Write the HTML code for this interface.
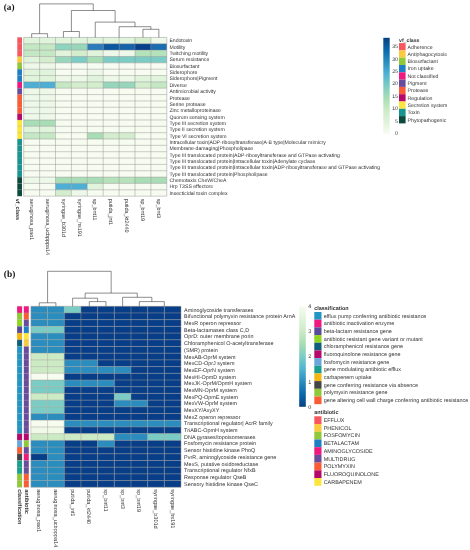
<!DOCTYPE html>
<html><head><meta charset="utf-8"><title>Heatmaps</title>
<style>html,body{margin:0;padding:0;background:#fff}svg{display:block}text{font-family:"Liberation Sans",sans-serif;fill:#333333;text-rendering:geometricPrecision}text.ser{font-family:"Liberation Serif",serif;font-weight:bold;fill:#111}</style>
</head><body>
<svg width="470" height="550" viewBox="0 0 470 550">
<defs><linearGradient id="ga" x1="0" y1="0" x2="0" y2="1"><stop offset="0.0000" stop-color="#084081"/><stop offset="0.1250" stop-color="#0868ac"/><stop offset="0.2500" stop-color="#2b8cbe"/><stop offset="0.3750" stop-color="#4eb3d3"/><stop offset="0.5000" stop-color="#7bccc4"/><stop offset="0.6250" stop-color="#a8ddb5"/><stop offset="0.7500" stop-color="#ccebc5"/><stop offset="0.8750" stop-color="#e0f3db"/><stop offset="1.0000" stop-color="#f7fcf0"/></linearGradient><linearGradient id="gb" x1="0" y1="0" x2="0" y2="1"><stop offset="0.0000" stop-color="#f7fcf0"/><stop offset="0.1250" stop-color="#e0f3db"/><stop offset="0.2500" stop-color="#ccebc5"/><stop offset="0.3750" stop-color="#a8ddb5"/><stop offset="0.5000" stop-color="#7bccc4"/><stop offset="0.6250" stop-color="#4eb3d3"/><stop offset="0.7500" stop-color="#2b8cbe"/><stop offset="0.8750" stop-color="#0868ac"/><stop offset="1.0000" stop-color="#084081"/></linearGradient></defs>
<rect x="0" y="0" width="470" height="550" fill="#ffffff"/>
<rect x="17.30" y="37.45" width="4.70" height="6.35" fill="#f8575f" />
<rect x="23.70" y="37.45" width="15.90" height="6.35" fill="#e0f3db" />
<rect x="39.60" y="37.45" width="15.90" height="6.35" fill="#e0f3db" />
<rect x="55.50" y="37.45" width="15.90" height="6.35" fill="#e0f3db" />
<rect x="71.40" y="37.45" width="15.90" height="6.35" fill="#e0f3db" />
<rect x="87.30" y="37.45" width="15.90" height="6.35" fill="#e0f3db" />
<rect x="103.20" y="37.45" width="15.90" height="6.35" fill="#e0f3db" />
<rect x="119.10" y="37.45" width="15.90" height="6.35" fill="#e0f3db" />
<rect x="135.00" y="37.45" width="15.90" height="6.35" fill="#d3edcd" />
<rect x="150.90" y="37.45" width="15.90" height="6.35" fill="#eef8e8" />
<text x="169.40" y="42.37" font-size="5.13" >Endotoxin</text>
<rect x="17.30" y="43.80" width="4.70" height="6.35" fill="#f8575f" />
<rect x="23.70" y="43.80" width="15.90" height="6.35" fill="#c5e8c4" />
<rect x="39.60" y="43.80" width="15.90" height="6.35" fill="#c5e8c4" />
<rect x="55.50" y="43.80" width="15.90" height="6.35" fill="#8fd4bf" />
<rect x="71.40" y="43.80" width="15.90" height="6.35" fill="#98d6bb" />
<rect x="87.30" y="43.80" width="15.90" height="6.35" fill="#2b7cba" />
<rect x="103.20" y="43.80" width="15.90" height="6.35" fill="#0c58a0" />
<rect x="119.10" y="43.80" width="15.90" height="6.35" fill="#1763aa" />
<rect x="135.00" y="43.80" width="15.90" height="6.35" fill="#083f8a" />
<rect x="150.90" y="43.80" width="15.90" height="6.35" fill="#1c6cb0" />
<text x="169.40" y="48.72" font-size="5.13" >Motility</text>
<rect x="17.30" y="50.15" width="4.70" height="6.35" fill="#f8575f" />
<rect x="23.70" y="50.15" width="15.90" height="6.35" fill="#c5e8c4" />
<rect x="39.60" y="50.15" width="15.90" height="6.35" fill="#c5e8c4" />
<rect x="55.50" y="50.15" width="15.90" height="6.35" fill="#e0f3db" />
<rect x="71.40" y="50.15" width="15.90" height="6.35" fill="#d3edcd" />
<rect x="87.30" y="50.15" width="15.90" height="6.35" fill="#e0f3db" />
<rect x="103.20" y="50.15" width="15.90" height="6.35" fill="#eef8e8" />
<rect x="119.10" y="50.15" width="15.90" height="6.35" fill="#eef8e8" />
<rect x="135.00" y="50.15" width="15.90" height="6.35" fill="#b5e2ba" />
<rect x="150.90" y="50.15" width="15.90" height="6.35" fill="#b5e2ba" />
<text x="169.40" y="55.07" font-size="5.13" >Twitching motility</text>
<rect x="17.30" y="56.49" width="4.70" height="6.35" fill="#fbc93d" />
<rect x="23.70" y="56.49" width="15.90" height="6.35" fill="#e0f3db" />
<rect x="39.60" y="56.49" width="15.90" height="6.35" fill="#d3edcd" />
<rect x="55.50" y="56.49" width="15.90" height="6.35" fill="#98d6bb" />
<rect x="71.40" y="56.49" width="15.90" height="6.35" fill="#7bccc4" />
<rect x="87.30" y="56.49" width="15.90" height="6.35" fill="#a8ddb5" />
<rect x="103.20" y="56.49" width="15.90" height="6.35" fill="#7bccc4" />
<rect x="119.10" y="56.49" width="15.90" height="6.35" fill="#7bccc4" />
<rect x="135.00" y="56.49" width="15.90" height="6.35" fill="#7bccc4" />
<rect x="150.90" y="56.49" width="15.90" height="6.35" fill="#7bccc4" />
<text x="169.40" y="61.42" font-size="5.13" >Serum resistance</text>
<rect x="17.30" y="62.84" width="4.70" height="6.35" fill="#8fc93a" />
<rect x="23.70" y="62.84" width="15.90" height="6.35" fill="#eef8e8" />
<rect x="39.60" y="62.84" width="15.90" height="6.35" fill="#eef8e8" />
<rect x="55.50" y="62.84" width="15.90" height="6.35" fill="#f7fcf0" />
<rect x="71.40" y="62.84" width="15.90" height="6.35" fill="#f7fcf0" />
<rect x="87.30" y="62.84" width="15.90" height="6.35" fill="#f7fcf0" />
<rect x="103.20" y="62.84" width="15.90" height="6.35" fill="#f7fcf0" />
<rect x="119.10" y="62.84" width="15.90" height="6.35" fill="#f7fcf0" />
<rect x="135.00" y="62.84" width="15.90" height="6.35" fill="#f7fcf0" />
<rect x="150.90" y="62.84" width="15.90" height="6.35" fill="#f7fcf0" />
<text x="169.40" y="67.77" font-size="5.13" >Biosurfactant</text>
<rect x="17.30" y="69.19" width="4.70" height="6.35" fill="#1f7fc6" />
<rect x="23.70" y="69.19" width="15.90" height="6.35" fill="#e0f3db" />
<rect x="39.60" y="69.19" width="15.90" height="6.35" fill="#e0f3db" />
<rect x="55.50" y="69.19" width="15.90" height="6.35" fill="#f7fcf0" />
<rect x="71.40" y="69.19" width="15.90" height="6.35" fill="#f7fcf0" />
<rect x="87.30" y="69.19" width="15.90" height="6.35" fill="#eef8e8" />
<rect x="103.20" y="69.19" width="15.90" height="6.35" fill="#f7fcf0" />
<rect x="119.10" y="69.19" width="15.90" height="6.35" fill="#f7fcf0" />
<rect x="135.00" y="69.19" width="15.90" height="6.35" fill="#f7fcf0" />
<rect x="150.90" y="69.19" width="15.90" height="6.35" fill="#f7fcf0" />
<text x="169.40" y="74.11" font-size="5.13" >Siderophore</text>
<rect x="17.30" y="75.54" width="4.70" height="6.35" fill="#1f7fc6" />
<rect x="23.70" y="75.54" width="15.90" height="6.35" fill="#e0f3db" />
<rect x="39.60" y="75.54" width="15.90" height="6.35" fill="#e0f3db" />
<rect x="55.50" y="75.54" width="15.90" height="6.35" fill="#eef8e8" />
<rect x="71.40" y="75.54" width="15.90" height="6.35" fill="#eef8e8" />
<rect x="87.30" y="75.54" width="15.90" height="6.35" fill="#e0f3db" />
<rect x="103.20" y="75.54" width="15.90" height="6.35" fill="#eef8e8" />
<rect x="119.10" y="75.54" width="15.90" height="6.35" fill="#eef8e8" />
<rect x="135.00" y="75.54" width="15.90" height="6.35" fill="#e0f3db" />
<rect x="150.90" y="75.54" width="15.90" height="6.35" fill="#e0f3db" />
<text x="169.40" y="80.46" font-size="5.13" >Siderophore|Pigment</text>
<rect x="17.30" y="81.89" width="4.70" height="6.35" fill="#f0197d" />
<rect x="23.70" y="81.89" width="15.90" height="6.35" fill="#4eaed3" />
<rect x="39.60" y="81.89" width="15.90" height="6.35" fill="#4eaed3" />
<rect x="55.50" y="81.89" width="15.90" height="6.35" fill="#c5e8c4" />
<rect x="71.40" y="81.89" width="15.90" height="6.35" fill="#d3edcd" />
<rect x="87.30" y="81.89" width="15.90" height="6.35" fill="#d3edcd" />
<rect x="103.20" y="81.89" width="15.90" height="6.35" fill="#98d6bb" />
<rect x="119.10" y="81.89" width="15.90" height="6.35" fill="#98d6bb" />
<rect x="135.00" y="81.89" width="15.90" height="6.35" fill="#d3edcd" />
<rect x="150.90" y="81.89" width="15.90" height="6.35" fill="#c5e8c4" />
<text x="169.40" y="86.81" font-size="5.13" >Diverse</text>
<rect x="17.30" y="88.23" width="4.70" height="6.35" fill="#6a4c9c" />
<rect x="23.70" y="88.23" width="15.90" height="6.35" fill="#eef8e8" />
<rect x="39.60" y="88.23" width="15.90" height="6.35" fill="#eef8e8" />
<rect x="55.50" y="88.23" width="15.90" height="6.35" fill="#f7fcf0" />
<rect x="71.40" y="88.23" width="15.90" height="6.35" fill="#f7fcf0" />
<rect x="87.30" y="88.23" width="15.90" height="6.35" fill="#f7fcf0" />
<rect x="103.20" y="88.23" width="15.90" height="6.35" fill="#f7fcf0" />
<rect x="119.10" y="88.23" width="15.90" height="6.35" fill="#f7fcf0" />
<rect x="135.00" y="88.23" width="15.90" height="6.35" fill="#f7fcf0" />
<rect x="150.90" y="88.23" width="15.90" height="6.35" fill="#f7fcf0" />
<text x="169.40" y="93.16" font-size="5.13" >Antimicrobial activity</text>
<rect x="17.30" y="94.58" width="4.70" height="6.35" fill="#fa5d35" />
<rect x="23.70" y="94.58" width="15.90" height="6.35" fill="#eef8e8" />
<rect x="39.60" y="94.58" width="15.90" height="6.35" fill="#eef8e8" />
<rect x="55.50" y="94.58" width="15.90" height="6.35" fill="#f7fcf0" />
<rect x="71.40" y="94.58" width="15.90" height="6.35" fill="#f7fcf0" />
<rect x="87.30" y="94.58" width="15.90" height="6.35" fill="#f7fcf0" />
<rect x="103.20" y="94.58" width="15.90" height="6.35" fill="#f7fcf0" />
<rect x="119.10" y="94.58" width="15.90" height="6.35" fill="#f7fcf0" />
<rect x="135.00" y="94.58" width="15.90" height="6.35" fill="#f7fcf0" />
<rect x="150.90" y="94.58" width="15.90" height="6.35" fill="#f7fcf0" />
<text x="169.40" y="99.51" font-size="5.13" >Protease</text>
<rect x="17.30" y="100.93" width="4.70" height="6.35" fill="#fa5d35" />
<rect x="23.70" y="100.93" width="15.90" height="6.35" fill="#eef8e8" />
<rect x="39.60" y="100.93" width="15.90" height="6.35" fill="#eef8e8" />
<rect x="55.50" y="100.93" width="15.90" height="6.35" fill="#f7fcf0" />
<rect x="71.40" y="100.93" width="15.90" height="6.35" fill="#f7fcf0" />
<rect x="87.30" y="100.93" width="15.90" height="6.35" fill="#f7fcf0" />
<rect x="103.20" y="100.93" width="15.90" height="6.35" fill="#f7fcf0" />
<rect x="119.10" y="100.93" width="15.90" height="6.35" fill="#f7fcf0" />
<rect x="135.00" y="100.93" width="15.90" height="6.35" fill="#f7fcf0" />
<rect x="150.90" y="100.93" width="15.90" height="6.35" fill="#f7fcf0" />
<text x="169.40" y="105.85" font-size="5.13" >Serine protease</text>
<rect x="17.30" y="107.28" width="4.70" height="6.35" fill="#fa5d35" />
<rect x="23.70" y="107.28" width="15.90" height="6.35" fill="#eef8e8" />
<rect x="39.60" y="107.28" width="15.90" height="6.35" fill="#eef8e8" />
<rect x="55.50" y="107.28" width="15.90" height="6.35" fill="#f7fcf0" />
<rect x="71.40" y="107.28" width="15.90" height="6.35" fill="#f7fcf0" />
<rect x="87.30" y="107.28" width="15.90" height="6.35" fill="#f7fcf0" />
<rect x="103.20" y="107.28" width="15.90" height="6.35" fill="#f7fcf0" />
<rect x="119.10" y="107.28" width="15.90" height="6.35" fill="#f7fcf0" />
<rect x="135.00" y="107.28" width="15.90" height="6.35" fill="#f7fcf0" />
<rect x="150.90" y="107.28" width="15.90" height="6.35" fill="#f7fcf0" />
<text x="169.40" y="112.20" font-size="5.13" >Zinc metalloproteinase</text>
<rect x="17.30" y="113.63" width="4.70" height="6.35" fill="#b5086a" />
<rect x="23.70" y="113.63" width="15.90" height="6.35" fill="#eef8e8" />
<rect x="39.60" y="113.63" width="15.90" height="6.35" fill="#eef8e8" />
<rect x="55.50" y="113.63" width="15.90" height="6.35" fill="#f7fcf0" />
<rect x="71.40" y="113.63" width="15.90" height="6.35" fill="#f7fcf0" />
<rect x="87.30" y="113.63" width="15.90" height="6.35" fill="#f7fcf0" />
<rect x="103.20" y="113.63" width="15.90" height="6.35" fill="#f7fcf0" />
<rect x="119.10" y="113.63" width="15.90" height="6.35" fill="#f7fcf0" />
<rect x="135.00" y="113.63" width="15.90" height="6.35" fill="#f7fcf0" />
<rect x="150.90" y="113.63" width="15.90" height="6.35" fill="#f7fcf0" />
<text x="169.40" y="118.55" font-size="5.13" >Quorum sensing system</text>
<rect x="17.30" y="119.97" width="4.70" height="6.35" fill="#fce63d" />
<rect x="23.70" y="119.97" width="15.90" height="6.35" fill="#a8ddb5" />
<rect x="39.60" y="119.97" width="15.90" height="6.35" fill="#a8ddb5" />
<rect x="55.50" y="119.97" width="15.90" height="6.35" fill="#f7fcf0" />
<rect x="71.40" y="119.97" width="15.90" height="6.35" fill="#f7fcf0" />
<rect x="87.30" y="119.97" width="15.90" height="6.35" fill="#f7fcf0" />
<rect x="103.20" y="119.97" width="15.90" height="6.35" fill="#f7fcf0" />
<rect x="119.10" y="119.97" width="15.90" height="6.35" fill="#f7fcf0" />
<rect x="135.00" y="119.97" width="15.90" height="6.35" fill="#f7fcf0" />
<rect x="150.90" y="119.97" width="15.90" height="6.35" fill="#f7fcf0" />
<text x="169.40" y="124.90" font-size="5.13" >Type III secretion system</text>
<rect x="17.30" y="126.32" width="4.70" height="6.35" fill="#fce63d" />
<rect x="23.70" y="126.32" width="15.90" height="6.35" fill="#e0f3db" />
<rect x="39.60" y="126.32" width="15.90" height="6.35" fill="#e0f3db" />
<rect x="55.50" y="126.32" width="15.90" height="6.35" fill="#f7fcf0" />
<rect x="71.40" y="126.32" width="15.90" height="6.35" fill="#f7fcf0" />
<rect x="87.30" y="126.32" width="15.90" height="6.35" fill="#f7fcf0" />
<rect x="103.20" y="126.32" width="15.90" height="6.35" fill="#f7fcf0" />
<rect x="119.10" y="126.32" width="15.90" height="6.35" fill="#f7fcf0" />
<rect x="135.00" y="126.32" width="15.90" height="6.35" fill="#f7fcf0" />
<rect x="150.90" y="126.32" width="15.90" height="6.35" fill="#f7fcf0" />
<text x="169.40" y="131.25" font-size="5.13" >Type II secretion system</text>
<rect x="17.30" y="132.67" width="4.70" height="6.35" fill="#fce63d" />
<rect x="23.70" y="132.67" width="15.90" height="6.35" fill="#c5e8c4" />
<rect x="39.60" y="132.67" width="15.90" height="6.35" fill="#c5e8c4" />
<rect x="55.50" y="132.67" width="15.90" height="6.35" fill="#f7fcf0" />
<rect x="71.40" y="132.67" width="15.90" height="6.35" fill="#f7fcf0" />
<rect x="87.30" y="132.67" width="15.90" height="6.35" fill="#a8ddb5" />
<rect x="103.20" y="132.67" width="15.90" height="6.35" fill="#d3edcd" />
<rect x="119.10" y="132.67" width="15.90" height="6.35" fill="#d3edcd" />
<rect x="135.00" y="132.67" width="15.90" height="6.35" fill="#f7fcf0" />
<rect x="150.90" y="132.67" width="15.90" height="6.35" fill="#f7fcf0" />
<text x="169.40" y="137.59" font-size="5.13" >Type VI secretion system</text>
<rect x="17.30" y="139.02" width="4.70" height="6.35" fill="#1a948e" />
<rect x="23.70" y="139.02" width="15.90" height="6.35" fill="#f7fcf0" />
<rect x="39.60" y="139.02" width="15.90" height="6.35" fill="#f7fcf0" />
<rect x="55.50" y="139.02" width="15.90" height="6.35" fill="#f7fcf0" />
<rect x="71.40" y="139.02" width="15.90" height="6.35" fill="#f7fcf0" />
<rect x="87.30" y="139.02" width="15.90" height="6.35" fill="#f7fcf0" />
<rect x="103.20" y="139.02" width="15.90" height="6.35" fill="#f7fcf0" />
<rect x="119.10" y="139.02" width="15.90" height="6.35" fill="#f7fcf0" />
<rect x="135.00" y="139.02" width="15.90" height="6.35" fill="#f7fcf0" />
<rect x="150.90" y="139.02" width="15.90" height="6.35" fill="#f7fcf0" />
<text x="169.40" y="143.94" font-size="5.13" >Intracellular toxin|ADP-ribosyltransferase|A-B type|Molecular mimicry</text>
<rect x="17.30" y="145.37" width="4.70" height="6.35" fill="#1a948e" />
<rect x="23.70" y="145.37" width="15.90" height="6.35" fill="#f7fcf0" />
<rect x="39.60" y="145.37" width="15.90" height="6.35" fill="#f7fcf0" />
<rect x="55.50" y="145.37" width="15.90" height="6.35" fill="#f7fcf0" />
<rect x="71.40" y="145.37" width="15.90" height="6.35" fill="#f7fcf0" />
<rect x="87.30" y="145.37" width="15.90" height="6.35" fill="#f7fcf0" />
<rect x="103.20" y="145.37" width="15.90" height="6.35" fill="#f7fcf0" />
<rect x="119.10" y="145.37" width="15.90" height="6.35" fill="#f7fcf0" />
<rect x="135.00" y="145.37" width="15.90" height="6.35" fill="#f7fcf0" />
<rect x="150.90" y="145.37" width="15.90" height="6.35" fill="#f7fcf0" />
<text x="169.40" y="150.29" font-size="5.13" >Membrane-damaging|Phospholipase</text>
<rect x="17.30" y="151.71" width="4.70" height="6.35" fill="#1a948e" />
<rect x="23.70" y="151.71" width="15.90" height="6.35" fill="#f7fcf0" />
<rect x="39.60" y="151.71" width="15.90" height="6.35" fill="#f7fcf0" />
<rect x="55.50" y="151.71" width="15.90" height="6.35" fill="#f7fcf0" />
<rect x="71.40" y="151.71" width="15.90" height="6.35" fill="#f7fcf0" />
<rect x="87.30" y="151.71" width="15.90" height="6.35" fill="#f7fcf0" />
<rect x="103.20" y="151.71" width="15.90" height="6.35" fill="#f7fcf0" />
<rect x="119.10" y="151.71" width="15.90" height="6.35" fill="#f7fcf0" />
<rect x="135.00" y="151.71" width="15.90" height="6.35" fill="#f7fcf0" />
<rect x="150.90" y="151.71" width="15.90" height="6.35" fill="#f7fcf0" />
<text x="169.40" y="156.64" font-size="5.13" >Type III translocated protein|ADP-ribosyltransferase and GTPase activating</text>
<rect x="17.30" y="158.06" width="4.70" height="6.35" fill="#1a948e" />
<rect x="23.70" y="158.06" width="15.90" height="6.35" fill="#f7fcf0" />
<rect x="39.60" y="158.06" width="15.90" height="6.35" fill="#f7fcf0" />
<rect x="55.50" y="158.06" width="15.90" height="6.35" fill="#f7fcf0" />
<rect x="71.40" y="158.06" width="15.90" height="6.35" fill="#f7fcf0" />
<rect x="87.30" y="158.06" width="15.90" height="6.35" fill="#f7fcf0" />
<rect x="103.20" y="158.06" width="15.90" height="6.35" fill="#f7fcf0" />
<rect x="119.10" y="158.06" width="15.90" height="6.35" fill="#f7fcf0" />
<rect x="135.00" y="158.06" width="15.90" height="6.35" fill="#f7fcf0" />
<rect x="150.90" y="158.06" width="15.90" height="6.35" fill="#f7fcf0" />
<text x="169.40" y="162.99" font-size="5.13" >Type III translocated protein|Intracellular toxin|Adenylate cyclase</text>
<rect x="17.30" y="164.41" width="4.70" height="6.35" fill="#1a948e" />
<rect x="23.70" y="164.41" width="15.90" height="6.35" fill="#f7fcf0" />
<rect x="39.60" y="164.41" width="15.90" height="6.35" fill="#f7fcf0" />
<rect x="55.50" y="164.41" width="15.90" height="6.35" fill="#f7fcf0" />
<rect x="71.40" y="164.41" width="15.90" height="6.35" fill="#f7fcf0" />
<rect x="87.30" y="164.41" width="15.90" height="6.35" fill="#f7fcf0" />
<rect x="103.20" y="164.41" width="15.90" height="6.35" fill="#f7fcf0" />
<rect x="119.10" y="164.41" width="15.90" height="6.35" fill="#f7fcf0" />
<rect x="135.00" y="164.41" width="15.90" height="6.35" fill="#f7fcf0" />
<rect x="150.90" y="164.41" width="15.90" height="6.35" fill="#f7fcf0" />
<text x="169.40" y="169.33" font-size="5.13" >Type III translocated protein|Intracellular toxin|ADP-ribosyltransferase and GTPase activating</text>
<rect x="17.30" y="170.76" width="4.70" height="6.35" fill="#1a948e" />
<rect x="23.70" y="170.76" width="15.90" height="6.35" fill="#f7fcf0" />
<rect x="39.60" y="170.76" width="15.90" height="6.35" fill="#f7fcf0" />
<rect x="55.50" y="170.76" width="15.90" height="6.35" fill="#f7fcf0" />
<rect x="71.40" y="170.76" width="15.90" height="6.35" fill="#f7fcf0" />
<rect x="87.30" y="170.76" width="15.90" height="6.35" fill="#f7fcf0" />
<rect x="103.20" y="170.76" width="15.90" height="6.35" fill="#f7fcf0" />
<rect x="119.10" y="170.76" width="15.90" height="6.35" fill="#f7fcf0" />
<rect x="135.00" y="170.76" width="15.90" height="6.35" fill="#f7fcf0" />
<rect x="150.90" y="170.76" width="15.90" height="6.35" fill="#f7fcf0" />
<text x="169.40" y="175.68" font-size="5.13" >Type III translocated protein|Phospholipase</text>
<rect x="17.30" y="177.11" width="4.70" height="6.35" fill="#0d4a3c" />
<rect x="23.70" y="177.11" width="15.90" height="6.35" fill="#eef8e8" />
<rect x="39.60" y="177.11" width="15.90" height="6.35" fill="#eef8e8" />
<rect x="55.50" y="177.11" width="15.90" height="6.35" fill="#a8ddb5" />
<rect x="71.40" y="177.11" width="15.90" height="6.35" fill="#a8ddb5" />
<rect x="87.30" y="177.11" width="15.90" height="6.35" fill="#a8ddb5" />
<rect x="103.20" y="177.11" width="15.90" height="6.35" fill="#b5e2ba" />
<rect x="119.10" y="177.11" width="15.90" height="6.35" fill="#b5e2ba" />
<rect x="135.00" y="177.11" width="15.90" height="6.35" fill="#a8ddb5" />
<rect x="150.90" y="177.11" width="15.90" height="6.35" fill="#a8ddb5" />
<text x="169.40" y="182.03" font-size="5.13" >Chemotaxis CheW/CheA</text>
<rect x="17.30" y="183.45" width="4.70" height="6.35" fill="#0d4a3c" />
<rect x="23.70" y="183.45" width="15.90" height="6.35" fill="#f7fcf0" />
<rect x="39.60" y="183.45" width="15.90" height="6.35" fill="#f7fcf0" />
<rect x="55.50" y="183.45" width="15.90" height="6.35" fill="#4eaed3" />
<rect x="71.40" y="183.45" width="15.90" height="6.35" fill="#4eaed3" />
<rect x="87.30" y="183.45" width="15.90" height="6.35" fill="#e0f3db" />
<rect x="103.20" y="183.45" width="15.90" height="6.35" fill="#f7fcf0" />
<rect x="119.10" y="183.45" width="15.90" height="6.35" fill="#f7fcf0" />
<rect x="135.00" y="183.45" width="15.90" height="6.35" fill="#f7fcf0" />
<rect x="150.90" y="183.45" width="15.90" height="6.35" fill="#f7fcf0" />
<text x="169.40" y="188.38" font-size="5.13" >Hrp T3SS effectors</text>
<rect x="17.30" y="189.80" width="4.70" height="6.35" fill="#0d4a3c" />
<rect x="23.70" y="189.80" width="15.90" height="6.35" fill="#f7fcf0" />
<rect x="39.60" y="189.80" width="15.90" height="6.35" fill="#f7fcf0" />
<rect x="55.50" y="189.80" width="15.90" height="6.35" fill="#d3edcd" />
<rect x="71.40" y="189.80" width="15.90" height="6.35" fill="#eef8e8" />
<rect x="87.30" y="189.80" width="15.90" height="6.35" fill="#f7fcf0" />
<rect x="103.20" y="189.80" width="15.90" height="6.35" fill="#f7fcf0" />
<rect x="119.10" y="189.80" width="15.90" height="6.35" fill="#f7fcf0" />
<rect x="135.00" y="189.80" width="15.90" height="6.35" fill="#f7fcf0" />
<rect x="150.90" y="189.80" width="15.90" height="6.35" fill="#f7fcf0" />
<text x="169.40" y="194.73" font-size="5.13" >Insecticidal toxin complex</text>
<line x1="23.70" y1="37.45" x2="166.80" y2="37.45" stroke="#8c8c8c" stroke-width="0.45"/>
<line x1="23.70" y1="43.80" x2="166.80" y2="43.80" stroke="#8c8c8c" stroke-width="0.45"/>
<line x1="23.70" y1="50.15" x2="166.80" y2="50.15" stroke="#8c8c8c" stroke-width="0.45"/>
<line x1="23.70" y1="56.49" x2="166.80" y2="56.49" stroke="#8c8c8c" stroke-width="0.45"/>
<line x1="23.70" y1="62.84" x2="166.80" y2="62.84" stroke="#8c8c8c" stroke-width="0.45"/>
<line x1="23.70" y1="69.19" x2="166.80" y2="69.19" stroke="#8c8c8c" stroke-width="0.45"/>
<line x1="23.70" y1="75.54" x2="166.80" y2="75.54" stroke="#8c8c8c" stroke-width="0.45"/>
<line x1="23.70" y1="81.89" x2="166.80" y2="81.89" stroke="#8c8c8c" stroke-width="0.45"/>
<line x1="23.70" y1="88.23" x2="166.80" y2="88.23" stroke="#8c8c8c" stroke-width="0.45"/>
<line x1="23.70" y1="94.58" x2="166.80" y2="94.58" stroke="#8c8c8c" stroke-width="0.45"/>
<line x1="23.70" y1="100.93" x2="166.80" y2="100.93" stroke="#8c8c8c" stroke-width="0.45"/>
<line x1="23.70" y1="107.28" x2="166.80" y2="107.28" stroke="#8c8c8c" stroke-width="0.45"/>
<line x1="23.70" y1="113.63" x2="166.80" y2="113.63" stroke="#8c8c8c" stroke-width="0.45"/>
<line x1="23.70" y1="119.97" x2="166.80" y2="119.97" stroke="#8c8c8c" stroke-width="0.45"/>
<line x1="23.70" y1="126.32" x2="166.80" y2="126.32" stroke="#8c8c8c" stroke-width="0.45"/>
<line x1="23.70" y1="132.67" x2="166.80" y2="132.67" stroke="#8c8c8c" stroke-width="0.45"/>
<line x1="23.70" y1="139.02" x2="166.80" y2="139.02" stroke="#8c8c8c" stroke-width="0.45"/>
<line x1="23.70" y1="145.37" x2="166.80" y2="145.37" stroke="#8c8c8c" stroke-width="0.45"/>
<line x1="23.70" y1="151.71" x2="166.80" y2="151.71" stroke="#8c8c8c" stroke-width="0.45"/>
<line x1="23.70" y1="158.06" x2="166.80" y2="158.06" stroke="#8c8c8c" stroke-width="0.45"/>
<line x1="23.70" y1="164.41" x2="166.80" y2="164.41" stroke="#8c8c8c" stroke-width="0.45"/>
<line x1="23.70" y1="170.76" x2="166.80" y2="170.76" stroke="#8c8c8c" stroke-width="0.45"/>
<line x1="23.70" y1="177.11" x2="166.80" y2="177.11" stroke="#8c8c8c" stroke-width="0.45"/>
<line x1="23.70" y1="183.45" x2="166.80" y2="183.45" stroke="#8c8c8c" stroke-width="0.45"/>
<line x1="23.70" y1="189.80" x2="166.80" y2="189.80" stroke="#8c8c8c" stroke-width="0.45"/>
<line x1="23.70" y1="196.15" x2="166.80" y2="196.15" stroke="#8c8c8c" stroke-width="0.45"/>
<line x1="23.70" y1="37.45" x2="23.70" y2="196.15" stroke="#8c8c8c" stroke-width="0.45"/>
<line x1="39.60" y1="37.45" x2="39.60" y2="196.15" stroke="#8c8c8c" stroke-width="0.45"/>
<line x1="55.50" y1="37.45" x2="55.50" y2="196.15" stroke="#8c8c8c" stroke-width="0.45"/>
<line x1="71.40" y1="37.45" x2="71.40" y2="196.15" stroke="#8c8c8c" stroke-width="0.45"/>
<line x1="87.30" y1="37.45" x2="87.30" y2="196.15" stroke="#8c8c8c" stroke-width="0.45"/>
<line x1="103.20" y1="37.45" x2="103.20" y2="196.15" stroke="#8c8c8c" stroke-width="0.45"/>
<line x1="119.10" y1="37.45" x2="119.10" y2="196.15" stroke="#8c8c8c" stroke-width="0.45"/>
<line x1="135.00" y1="37.45" x2="135.00" y2="196.15" stroke="#8c8c8c" stroke-width="0.45"/>
<line x1="150.90" y1="37.45" x2="150.90" y2="196.15" stroke="#8c8c8c" stroke-width="0.45"/>
<line x1="166.80" y1="37.45" x2="166.80" y2="196.15" stroke="#8c8c8c" stroke-width="0.45"/>
<line x1="17.30" y1="37.45" x2="22.00" y2="37.45" stroke="#8c8c8c" stroke-width="0.3"/>
<line x1="17.30" y1="43.80" x2="22.00" y2="43.80" stroke="#8c8c8c" stroke-width="0.3"/>
<line x1="17.30" y1="50.15" x2="22.00" y2="50.15" stroke="#8c8c8c" stroke-width="0.3"/>
<line x1="17.30" y1="56.49" x2="22.00" y2="56.49" stroke="#8c8c8c" stroke-width="0.3"/>
<line x1="17.30" y1="62.84" x2="22.00" y2="62.84" stroke="#8c8c8c" stroke-width="0.3"/>
<line x1="17.30" y1="69.19" x2="22.00" y2="69.19" stroke="#8c8c8c" stroke-width="0.3"/>
<line x1="17.30" y1="75.54" x2="22.00" y2="75.54" stroke="#8c8c8c" stroke-width="0.3"/>
<line x1="17.30" y1="81.89" x2="22.00" y2="81.89" stroke="#8c8c8c" stroke-width="0.3"/>
<line x1="17.30" y1="88.23" x2="22.00" y2="88.23" stroke="#8c8c8c" stroke-width="0.3"/>
<line x1="17.30" y1="94.58" x2="22.00" y2="94.58" stroke="#8c8c8c" stroke-width="0.3"/>
<line x1="17.30" y1="100.93" x2="22.00" y2="100.93" stroke="#8c8c8c" stroke-width="0.3"/>
<line x1="17.30" y1="107.28" x2="22.00" y2="107.28" stroke="#8c8c8c" stroke-width="0.3"/>
<line x1="17.30" y1="113.63" x2="22.00" y2="113.63" stroke="#8c8c8c" stroke-width="0.3"/>
<line x1="17.30" y1="119.97" x2="22.00" y2="119.97" stroke="#8c8c8c" stroke-width="0.3"/>
<line x1="17.30" y1="126.32" x2="22.00" y2="126.32" stroke="#8c8c8c" stroke-width="0.3"/>
<line x1="17.30" y1="132.67" x2="22.00" y2="132.67" stroke="#8c8c8c" stroke-width="0.3"/>
<line x1="17.30" y1="139.02" x2="22.00" y2="139.02" stroke="#8c8c8c" stroke-width="0.3"/>
<line x1="17.30" y1="145.37" x2="22.00" y2="145.37" stroke="#8c8c8c" stroke-width="0.3"/>
<line x1="17.30" y1="151.71" x2="22.00" y2="151.71" stroke="#8c8c8c" stroke-width="0.3"/>
<line x1="17.30" y1="158.06" x2="22.00" y2="158.06" stroke="#8c8c8c" stroke-width="0.3"/>
<line x1="17.30" y1="164.41" x2="22.00" y2="164.41" stroke="#8c8c8c" stroke-width="0.3"/>
<line x1="17.30" y1="170.76" x2="22.00" y2="170.76" stroke="#8c8c8c" stroke-width="0.3"/>
<line x1="17.30" y1="177.11" x2="22.00" y2="177.11" stroke="#8c8c8c" stroke-width="0.3"/>
<line x1="17.30" y1="183.45" x2="22.00" y2="183.45" stroke="#8c8c8c" stroke-width="0.3"/>
<line x1="17.30" y1="189.80" x2="22.00" y2="189.80" stroke="#8c8c8c" stroke-width="0.3"/>
<line x1="17.30" y1="196.15" x2="22.00" y2="196.15" stroke="#8c8c8c" stroke-width="0.3"/>
<text transform="translate(29.80 198.70) rotate(90)" font-size="5.4" >aeruginosa_pao1</text>
<text transform="translate(45.70 198.70) rotate(90)" font-size="5.4" >aeruginosa_ucbpppa14</text>
<text transform="translate(61.60 198.70) rotate(90)" font-size="5.4" >syringae_b301d</text>
<text transform="translate(77.50 198.70) rotate(90)" font-size="5.4" >syringae_hs191</text>
<text transform="translate(93.40 198.70) rotate(90)" font-size="5.4" >sp_bnt11</text>
<text transform="translate(109.30 198.70) rotate(90)" font-size="5.4" >putida_jnt1</text>
<text transform="translate(125.20 198.70) rotate(90)" font-size="5.4" >putida_kt2440</text>
<text transform="translate(141.10 198.70) rotate(90)" font-size="5.4" >sp_bnt19</text>
<text transform="translate(157.00 198.70) rotate(90)" font-size="5.4" >sp_bnt3</text>
<text transform="translate(16.15 198.70) rotate(90)" font-size="5.4" font-weight="bold">vf_class</text>
<path d="M31.65 37.45V33.70H47.55V37.45" fill="none" stroke="#303030" stroke-width="0.55"/>
<path d="M63.45 37.45V31.50H79.35V37.45" fill="none" stroke="#303030" stroke-width="0.55"/>
<path d="M142.95 37.45V29.30H158.85V37.45" fill="none" stroke="#303030" stroke-width="0.55"/>
<path d="M119.10 37.45V26.70H150.90V29.30" fill="none" stroke="#303030" stroke-width="0.55"/>
<path d="M95.25 37.45V22.10H135.00V26.70" fill="none" stroke="#303030" stroke-width="0.55"/>
<path d="M71.40 31.50V10.50H115.12V22.10" fill="none" stroke="#303030" stroke-width="0.55"/>
<path d="M39.60 33.70V3.90H93.26V10.50" fill="none" stroke="#303030" stroke-width="0.55"/>
<text x="3.80" y="9.90" font-size="9.2" class="ser">(a)</text>
<rect x="383.3" y="37.8" width="6.4" height="96.2" fill="url(#ga)"/>
<text x="398.00" y="48.25" font-size="5.2" text-anchor="end">35</text>
<text x="398.00" y="60.63" font-size="5.2" text-anchor="end">30</text>
<text x="398.00" y="73.01" font-size="5.2" text-anchor="end">25</text>
<text x="398.00" y="85.39" font-size="5.2" text-anchor="end">20</text>
<text x="398.00" y="97.77" font-size="5.2" text-anchor="end">15</text>
<text x="398.00" y="110.15" font-size="5.2" text-anchor="end">10</text>
<text x="398.00" y="122.53" font-size="5.2" text-anchor="end">5</text>
<text x="398.00" y="134.91" font-size="5.2" text-anchor="end">0</text>
<text x="399.00" y="41.80" font-size="5.2" font-weight="bold">vf_class</text>
<rect x="399.00" y="43.10" width="6.60" height="7.30" fill="#f8575f" />
<text x="407.60" y="48.50" font-size="5.2" >Adherence</text>
<rect x="399.00" y="50.40" width="6.60" height="7.30" fill="#fbc93d" />
<text x="407.60" y="55.80" font-size="5.2" >Antiphagocytosis</text>
<rect x="399.00" y="57.70" width="6.60" height="7.30" fill="#8fc93a" />
<text x="407.60" y="63.10" font-size="5.2" >Biosurfactant</text>
<rect x="399.00" y="65.00" width="6.60" height="7.30" fill="#1f7fc6" />
<text x="407.60" y="70.40" font-size="5.2" >Iron uptake</text>
<rect x="399.00" y="72.30" width="6.60" height="7.30" fill="#f0197d" />
<text x="407.60" y="77.70" font-size="5.2" >Not classified</text>
<rect x="399.00" y="79.60" width="6.60" height="7.30" fill="#6a4c9c" />
<text x="407.60" y="85.00" font-size="5.2" >Pigment</text>
<rect x="399.00" y="86.90" width="6.60" height="7.30" fill="#fa5d35" />
<text x="407.60" y="92.30" font-size="5.2" >Protease</text>
<rect x="399.00" y="94.20" width="6.60" height="7.30" fill="#b5086a" />
<text x="407.60" y="99.60" font-size="5.2" >Regulation</text>
<rect x="399.00" y="101.50" width="6.60" height="7.30" fill="#fce63d" />
<text x="407.60" y="106.90" font-size="5.2" >Secretion system</text>
<rect x="399.00" y="108.80" width="6.60" height="7.30" fill="#1a948e" />
<text x="407.60" y="114.20" font-size="5.2" >Toxin</text>
<rect x="399.00" y="116.10" width="6.60" height="7.30" fill="#0d4a3c" />
<text x="407.60" y="121.50" font-size="5.2" >Phytopathogenic</text>
<rect x="17.10" y="306.25" width="5.00" height="6.71" fill="#f0197d" />
<rect x="23.80" y="306.25" width="5.00" height="6.71" fill="#f0197d" />
<rect x="30.90" y="306.25" width="16.68" height="6.71" fill="#2b8cbe" />
<rect x="47.58" y="306.25" width="16.68" height="6.71" fill="#2b8cbe" />
<rect x="64.26" y="306.25" width="16.68" height="6.71" fill="#7bccc4" />
<rect x="80.94" y="306.25" width="16.68" height="6.71" fill="#083e88" />
<rect x="97.62" y="306.25" width="16.68" height="6.71" fill="#083e88" />
<rect x="114.30" y="306.25" width="16.68" height="6.71" fill="#083e88" />
<rect x="130.98" y="306.25" width="16.68" height="6.71" fill="#083e88" />
<rect x="147.66" y="306.25" width="16.68" height="6.71" fill="#083e88" />
<rect x="164.34" y="306.25" width="16.68" height="6.71" fill="#083e88" />
<text x="184.10" y="311.75" font-size="5.43" >Aminoglycoside transferases</text>
<rect x="17.10" y="312.95" width="5.00" height="6.71" fill="#8fc93a" />
<rect x="23.80" y="312.95" width="5.00" height="6.71" fill="#fa5d35" />
<rect x="30.90" y="312.95" width="16.68" height="6.71" fill="#2b8cbe" />
<rect x="47.58" y="312.95" width="16.68" height="6.71" fill="#2b8cbe" />
<rect x="64.26" y="312.95" width="16.68" height="6.71" fill="#083e88" />
<rect x="80.94" y="312.95" width="16.68" height="6.71" fill="#083e88" />
<rect x="97.62" y="312.95" width="16.68" height="6.71" fill="#083e88" />
<rect x="114.30" y="312.95" width="16.68" height="6.71" fill="#083e88" />
<rect x="130.98" y="312.95" width="16.68" height="6.71" fill="#083e88" />
<rect x="147.66" y="312.95" width="16.68" height="6.71" fill="#083e88" />
<rect x="164.34" y="312.95" width="16.68" height="6.71" fill="#083e88" />
<text x="184.10" y="318.44" font-size="5.43" >Bifunctional polymyxin resistance protein ArnA</text>
<rect x="17.10" y="319.66" width="5.00" height="6.71" fill="#8fd41e" />
<rect x="23.80" y="319.66" width="5.00" height="6.71" fill="#6a4c9c" />
<rect x="30.90" y="319.66" width="16.68" height="6.71" fill="#2b8cbe" />
<rect x="47.58" y="319.66" width="16.68" height="6.71" fill="#2b8cbe" />
<rect x="64.26" y="319.66" width="16.68" height="6.71" fill="#083e88" />
<rect x="80.94" y="319.66" width="16.68" height="6.71" fill="#083e88" />
<rect x="97.62" y="319.66" width="16.68" height="6.71" fill="#083e88" />
<rect x="114.30" y="319.66" width="16.68" height="6.71" fill="#083e88" />
<rect x="130.98" y="319.66" width="16.68" height="6.71" fill="#083e88" />
<rect x="147.66" y="319.66" width="16.68" height="6.71" fill="#083e88" />
<rect x="164.34" y="319.66" width="16.68" height="6.71" fill="#083e88" />
<text x="184.10" y="325.12" font-size="5.43" >MexR operon repressor</text>
<rect x="17.10" y="326.37" width="5.00" height="6.71" fill="#5a4a9c" />
<rect x="23.80" y="326.37" width="5.00" height="6.71" fill="#1f7fc6" />
<rect x="30.90" y="326.37" width="16.68" height="6.71" fill="#7bccc4" />
<rect x="47.58" y="326.37" width="16.68" height="6.71" fill="#7bccc4" />
<rect x="64.26" y="326.37" width="16.68" height="6.71" fill="#083e88" />
<rect x="80.94" y="326.37" width="16.68" height="6.71" fill="#083e88" />
<rect x="97.62" y="326.37" width="16.68" height="6.71" fill="#083e88" />
<rect x="114.30" y="326.37" width="16.68" height="6.71" fill="#083e88" />
<rect x="130.98" y="326.37" width="16.68" height="6.71" fill="#083e88" />
<rect x="147.66" y="326.37" width="16.68" height="6.71" fill="#083e88" />
<rect x="164.34" y="326.37" width="16.68" height="6.71" fill="#083e88" />
<text x="184.10" y="331.81" font-size="5.43" >Beta-lactamases class C,D</text>
<rect x="17.10" y="333.07" width="5.00" height="6.71" fill="#f5b70f" />
<rect x="23.80" y="333.07" width="5.00" height="6.71" fill="#fce63d" />
<rect x="30.90" y="333.07" width="16.68" height="6.71" fill="#2b8cbe" />
<rect x="47.58" y="333.07" width="16.68" height="6.71" fill="#2b8cbe" />
<rect x="64.26" y="333.07" width="16.68" height="6.71" fill="#083e88" />
<rect x="80.94" y="333.07" width="16.68" height="6.71" fill="#083e88" />
<rect x="97.62" y="333.07" width="16.68" height="6.71" fill="#083e88" />
<rect x="114.30" y="333.07" width="16.68" height="6.71" fill="#083e88" />
<rect x="130.98" y="333.07" width="16.68" height="6.71" fill="#083e88" />
<rect x="147.66" y="333.07" width="16.68" height="6.71" fill="#083e88" />
<rect x="164.34" y="333.07" width="16.68" height="6.71" fill="#083e88" />
<text x="184.10" y="338.49" font-size="5.43" >OprD: outer membrane porin</text>
<rect x="17.10" y="339.77" width="5.00" height="6.71" fill="#0f5e7c" />
<rect x="23.80" y="339.77" width="5.00" height="6.71" fill="#fbc93d" />
<rect x="30.90" y="339.77" width="16.68" height="6.71" fill="#2b8cbe" />
<rect x="47.58" y="339.77" width="16.68" height="6.71" fill="#2b8cbe" />
<rect x="64.26" y="339.77" width="16.68" height="6.71" fill="#083e88" />
<rect x="80.94" y="339.77" width="16.68" height="6.71" fill="#083e88" />
<rect x="97.62" y="339.77" width="16.68" height="6.71" fill="#083e88" />
<rect x="114.30" y="339.77" width="16.68" height="6.71" fill="#083e88" />
<rect x="130.98" y="339.77" width="16.68" height="6.71" fill="#083e88" />
<rect x="147.66" y="339.77" width="16.68" height="6.71" fill="#083e88" />
<rect x="164.34" y="339.77" width="16.68" height="6.71" fill="#083e88" />
<text x="184.10" y="345.18" font-size="5.43" >Chloramphenicol O-acetyltransferase</text>
<rect x="17.10" y="346.48" width="5.00" height="6.71" fill="#2196c4" />
<rect x="23.80" y="346.48" width="5.00" height="6.71" fill="#6a4c9c" />
<rect x="30.90" y="346.48" width="16.68" height="6.71" fill="#2b8cbe" />
<rect x="47.58" y="346.48" width="16.68" height="6.71" fill="#2b8cbe" />
<rect x="64.26" y="346.48" width="16.68" height="6.71" fill="#083e88" />
<rect x="80.94" y="346.48" width="16.68" height="6.71" fill="#083e88" />
<rect x="97.62" y="346.48" width="16.68" height="6.71" fill="#083e88" />
<rect x="114.30" y="346.48" width="16.68" height="6.71" fill="#083e88" />
<rect x="130.98" y="346.48" width="16.68" height="6.71" fill="#083e88" />
<rect x="147.66" y="346.48" width="16.68" height="6.71" fill="#083e88" />
<rect x="164.34" y="346.48" width="16.68" height="6.71" fill="#083e88" />
<text x="184.10" y="351.86" font-size="5.43" >(SMR) protein</text>
<rect x="17.10" y="353.19" width="5.00" height="6.71" fill="#2196c4" />
<rect x="23.80" y="353.19" width="5.00" height="6.71" fill="#6a4c9c" />
<rect x="30.90" y="353.19" width="16.68" height="6.71" fill="#ccebc5" />
<rect x="47.58" y="353.19" width="16.68" height="6.71" fill="#ccebc5" />
<rect x="64.26" y="353.19" width="16.68" height="6.71" fill="#083e88" />
<rect x="80.94" y="353.19" width="16.68" height="6.71" fill="#083e88" />
<rect x="97.62" y="353.19" width="16.68" height="6.71" fill="#083e88" />
<rect x="114.30" y="353.19" width="16.68" height="6.71" fill="#083e88" />
<rect x="130.98" y="353.19" width="16.68" height="6.71" fill="#083e88" />
<rect x="147.66" y="353.19" width="16.68" height="6.71" fill="#083e88" />
<rect x="164.34" y="353.19" width="16.68" height="6.71" fill="#083e88" />
<text x="184.10" y="358.55" font-size="5.43" >MexAB-OprM system</text>
<rect x="17.10" y="359.89" width="5.00" height="6.71" fill="#2196c4" />
<rect x="23.80" y="359.89" width="5.00" height="6.71" fill="#6a4c9c" />
<rect x="30.90" y="359.89" width="16.68" height="6.71" fill="#ccebc5" />
<rect x="47.58" y="359.89" width="16.68" height="6.71" fill="#ccebc5" />
<rect x="64.26" y="359.89" width="16.68" height="6.71" fill="#2b8cbe" />
<rect x="80.94" y="359.89" width="16.68" height="6.71" fill="#2b8cbe" />
<rect x="97.62" y="359.89" width="16.68" height="6.71" fill="#083e88" />
<rect x="114.30" y="359.89" width="16.68" height="6.71" fill="#083e88" />
<rect x="130.98" y="359.89" width="16.68" height="6.71" fill="#083e88" />
<rect x="147.66" y="359.89" width="16.68" height="6.71" fill="#083e88" />
<rect x="164.34" y="359.89" width="16.68" height="6.71" fill="#083e88" />
<text x="184.10" y="365.23" font-size="5.43" >MexCD-OprJ system</text>
<rect x="17.10" y="366.60" width="5.00" height="6.71" fill="#2196c4" />
<rect x="23.80" y="366.60" width="5.00" height="6.71" fill="#6a4c9c" />
<rect x="30.90" y="366.60" width="16.68" height="6.71" fill="#ccebc5" />
<rect x="47.58" y="366.60" width="16.68" height="6.71" fill="#ccebc5" />
<rect x="64.26" y="366.60" width="16.68" height="6.71" fill="#2b8cbe" />
<rect x="80.94" y="366.60" width="16.68" height="6.71" fill="#2b8cbe" />
<rect x="97.62" y="366.60" width="16.68" height="6.71" fill="#2b8cbe" />
<rect x="114.30" y="366.60" width="16.68" height="6.71" fill="#2b8cbe" />
<rect x="130.98" y="366.60" width="16.68" height="6.71" fill="#083e88" />
<rect x="147.66" y="366.60" width="16.68" height="6.71" fill="#083e88" />
<rect x="164.34" y="366.60" width="16.68" height="6.71" fill="#083e88" />
<text x="184.10" y="371.92" font-size="5.43" >MexEF-OprN system</text>
<rect x="17.10" y="373.30" width="5.00" height="6.71" fill="#2196c4" />
<rect x="23.80" y="373.30" width="5.00" height="6.71" fill="#6a4c9c" />
<rect x="30.90" y="373.30" width="16.68" height="6.71" fill="#f7fcf0" />
<rect x="47.58" y="373.30" width="16.68" height="6.71" fill="#f7fcf0" />
<rect x="64.26" y="373.30" width="16.68" height="6.71" fill="#083e88" />
<rect x="80.94" y="373.30" width="16.68" height="6.71" fill="#083e88" />
<rect x="97.62" y="373.30" width="16.68" height="6.71" fill="#083e88" />
<rect x="114.30" y="373.30" width="16.68" height="6.71" fill="#083e88" />
<rect x="130.98" y="373.30" width="16.68" height="6.71" fill="#083e88" />
<rect x="147.66" y="373.30" width="16.68" height="6.71" fill="#083e88" />
<rect x="164.34" y="373.30" width="16.68" height="6.71" fill="#083e88" />
<text x="184.10" y="378.60" font-size="5.43" >MexHI-OpmD system</text>
<rect x="17.10" y="380.00" width="5.00" height="6.71" fill="#2196c4" />
<rect x="23.80" y="380.00" width="5.00" height="6.71" fill="#6a4c9c" />
<rect x="30.90" y="380.00" width="16.68" height="6.71" fill="#7bccc4" />
<rect x="47.58" y="380.00" width="16.68" height="6.71" fill="#7bccc4" />
<rect x="64.26" y="380.00" width="16.68" height="6.71" fill="#2b8cbe" />
<rect x="80.94" y="380.00" width="16.68" height="6.71" fill="#2b8cbe" />
<rect x="97.62" y="380.00" width="16.68" height="6.71" fill="#2b8cbe" />
<rect x="114.30" y="380.00" width="16.68" height="6.71" fill="#083e88" />
<rect x="130.98" y="380.00" width="16.68" height="6.71" fill="#083e88" />
<rect x="147.66" y="380.00" width="16.68" height="6.71" fill="#083e88" />
<rect x="164.34" y="380.00" width="16.68" height="6.71" fill="#083e88" />
<text x="184.10" y="385.29" font-size="5.43" >MexJK-OprM/OpmH system</text>
<rect x="17.10" y="386.71" width="5.00" height="6.71" fill="#2196c4" />
<rect x="23.80" y="386.71" width="5.00" height="6.71" fill="#6a4c9c" />
<rect x="30.90" y="386.71" width="16.68" height="6.71" fill="#7bccc4" />
<rect x="47.58" y="386.71" width="16.68" height="6.71" fill="#7bccc4" />
<rect x="64.26" y="386.71" width="16.68" height="6.71" fill="#083e88" />
<rect x="80.94" y="386.71" width="16.68" height="6.71" fill="#083e88" />
<rect x="97.62" y="386.71" width="16.68" height="6.71" fill="#083e88" />
<rect x="114.30" y="386.71" width="16.68" height="6.71" fill="#083e88" />
<rect x="130.98" y="386.71" width="16.68" height="6.71" fill="#083e88" />
<rect x="147.66" y="386.71" width="16.68" height="6.71" fill="#083e88" />
<rect x="164.34" y="386.71" width="16.68" height="6.71" fill="#083e88" />
<text x="184.10" y="391.97" font-size="5.43" >MexMN-OprM system</text>
<rect x="17.10" y="393.42" width="5.00" height="6.71" fill="#2196c4" />
<rect x="23.80" y="393.42" width="5.00" height="6.71" fill="#6a4c9c" />
<rect x="30.90" y="393.42" width="16.68" height="6.71" fill="#ccebc5" />
<rect x="47.58" y="393.42" width="16.68" height="6.71" fill="#ccebc5" />
<rect x="64.26" y="393.42" width="16.68" height="6.71" fill="#083e88" />
<rect x="80.94" y="393.42" width="16.68" height="6.71" fill="#083e88" />
<rect x="97.62" y="393.42" width="16.68" height="6.71" fill="#083e88" />
<rect x="114.30" y="393.42" width="16.68" height="6.71" fill="#7bccc4" />
<rect x="130.98" y="393.42" width="16.68" height="6.71" fill="#083e88" />
<rect x="147.66" y="393.42" width="16.68" height="6.71" fill="#083e88" />
<rect x="164.34" y="393.42" width="16.68" height="6.71" fill="#083e88" />
<text x="184.10" y="398.66" font-size="5.43" >MexPQ-OpmE system</text>
<rect x="17.10" y="400.12" width="5.00" height="6.71" fill="#2196c4" />
<rect x="23.80" y="400.12" width="5.00" height="6.71" fill="#6a4c9c" />
<rect x="30.90" y="400.12" width="16.68" height="6.71" fill="#7bccc4" />
<rect x="47.58" y="400.12" width="16.68" height="6.71" fill="#7bccc4" />
<rect x="64.26" y="400.12" width="16.68" height="6.71" fill="#083e88" />
<rect x="80.94" y="400.12" width="16.68" height="6.71" fill="#083e88" />
<rect x="97.62" y="400.12" width="16.68" height="6.71" fill="#083e88" />
<rect x="114.30" y="400.12" width="16.68" height="6.71" fill="#2b8cbe" />
<rect x="130.98" y="400.12" width="16.68" height="6.71" fill="#2b8cbe" />
<rect x="147.66" y="400.12" width="16.68" height="6.71" fill="#083e88" />
<rect x="164.34" y="400.12" width="16.68" height="6.71" fill="#083e88" />
<text x="184.10" y="405.34" font-size="5.43" >MexVW-OprM system</text>
<rect x="17.10" y="406.82" width="5.00" height="6.71" fill="#2196c4" />
<rect x="23.80" y="406.82" width="5.00" height="6.71" fill="#6a4c9c" />
<rect x="30.90" y="406.82" width="16.68" height="6.71" fill="#7bccc4" />
<rect x="47.58" y="406.82" width="16.68" height="6.71" fill="#7bccc4" />
<rect x="64.26" y="406.82" width="16.68" height="6.71" fill="#083e88" />
<rect x="80.94" y="406.82" width="16.68" height="6.71" fill="#083e88" />
<rect x="97.62" y="406.82" width="16.68" height="6.71" fill="#083e88" />
<rect x="114.30" y="406.82" width="16.68" height="6.71" fill="#083e88" />
<rect x="130.98" y="406.82" width="16.68" height="6.71" fill="#083e88" />
<rect x="147.66" y="406.82" width="16.68" height="6.71" fill="#083e88" />
<rect x="164.34" y="406.82" width="16.68" height="6.71" fill="#083e88" />
<text x="184.10" y="412.03" font-size="5.43" >MexXY/AxyXY</text>
<rect x="17.10" y="413.53" width="5.00" height="6.71" fill="#2196c4" />
<rect x="23.80" y="413.53" width="5.00" height="6.71" fill="#6a4c9c" />
<rect x="30.90" y="413.53" width="16.68" height="6.71" fill="#2b8cbe" />
<rect x="47.58" y="413.53" width="16.68" height="6.71" fill="#2b8cbe" />
<rect x="64.26" y="413.53" width="16.68" height="6.71" fill="#083e88" />
<rect x="80.94" y="413.53" width="16.68" height="6.71" fill="#083e88" />
<rect x="97.62" y="413.53" width="16.68" height="6.71" fill="#083e88" />
<rect x="114.30" y="413.53" width="16.68" height="6.71" fill="#083e88" />
<rect x="130.98" y="413.53" width="16.68" height="6.71" fill="#083e88" />
<rect x="147.66" y="413.53" width="16.68" height="6.71" fill="#083e88" />
<rect x="164.34" y="413.53" width="16.68" height="6.71" fill="#083e88" />
<text x="184.10" y="418.71" font-size="5.43" >MexZ operon repressor</text>
<rect x="17.10" y="420.24" width="5.00" height="6.71" fill="#2196c4" />
<rect x="23.80" y="420.24" width="5.00" height="6.71" fill="#6a4c9c" />
<rect x="30.90" y="420.24" width="16.68" height="6.71" fill="#f7fcf0" />
<rect x="47.58" y="420.24" width="16.68" height="6.71" fill="#f7fcf0" />
<rect x="64.26" y="420.24" width="16.68" height="6.71" fill="#2b8cbe" />
<rect x="80.94" y="420.24" width="16.68" height="6.71" fill="#2b8cbe" />
<rect x="97.62" y="420.24" width="16.68" height="6.71" fill="#2b8cbe" />
<rect x="114.30" y="420.24" width="16.68" height="6.71" fill="#2b8cbe" />
<rect x="130.98" y="420.24" width="16.68" height="6.71" fill="#2b8cbe" />
<rect x="147.66" y="420.24" width="16.68" height="6.71" fill="#2b8cbe" />
<rect x="164.34" y="420.24" width="16.68" height="6.71" fill="#2b8cbe" />
<text x="184.10" y="425.40" font-size="5.43" >Transcriptional regulator| AcrR family</text>
<rect x="17.10" y="426.94" width="5.00" height="6.71" fill="#2196c4" />
<rect x="23.80" y="426.94" width="5.00" height="6.71" fill="#6a4c9c" />
<rect x="30.90" y="426.94" width="16.68" height="6.71" fill="#f0f9e8" />
<rect x="47.58" y="426.94" width="16.68" height="6.71" fill="#f0f9e8" />
<rect x="64.26" y="426.94" width="16.68" height="6.71" fill="#083e88" />
<rect x="80.94" y="426.94" width="16.68" height="6.71" fill="#083e88" />
<rect x="97.62" y="426.94" width="16.68" height="6.71" fill="#083e88" />
<rect x="114.30" y="426.94" width="16.68" height="6.71" fill="#083e88" />
<rect x="130.98" y="426.94" width="16.68" height="6.71" fill="#083e88" />
<rect x="147.66" y="426.94" width="16.68" height="6.71" fill="#083e88" />
<rect x="164.34" y="426.94" width="16.68" height="6.71" fill="#083e88" />
<text x="184.10" y="432.08" font-size="5.43" >TriABC-OpmH system</text>
<rect x="17.10" y="433.64" width="5.00" height="6.71" fill="#b5086a" />
<rect x="23.80" y="433.64" width="5.00" height="6.71" fill="#b5086a" />
<rect x="30.90" y="433.64" width="16.68" height="6.71" fill="#ccebc5" />
<rect x="47.58" y="433.64" width="16.68" height="6.71" fill="#ccebc5" />
<rect x="64.26" y="433.64" width="16.68" height="6.71" fill="#ccebc5" />
<rect x="80.94" y="433.64" width="16.68" height="6.71" fill="#ccebc5" />
<rect x="97.62" y="433.64" width="16.68" height="6.71" fill="#ccebc5" />
<rect x="114.30" y="433.64" width="16.68" height="6.71" fill="#2b8cbe" />
<rect x="130.98" y="433.64" width="16.68" height="6.71" fill="#2b8cbe" />
<rect x="147.66" y="433.64" width="16.68" height="6.71" fill="#7bccc4" />
<rect x="164.34" y="433.64" width="16.68" height="6.71" fill="#7bccc4" />
<text x="184.10" y="438.77" font-size="5.43" >DNA gyrases/topoisomerases</text>
<rect x="17.10" y="440.35" width="5.00" height="6.71" fill="#6aa5dc" />
<rect x="23.80" y="440.35" width="5.00" height="6.71" fill="#8fc93a" />
<rect x="30.90" y="440.35" width="16.68" height="6.71" fill="#2b8cbe" />
<rect x="47.58" y="440.35" width="16.68" height="6.71" fill="#2b8cbe" />
<rect x="64.26" y="440.35" width="16.68" height="6.71" fill="#083e88" />
<rect x="80.94" y="440.35" width="16.68" height="6.71" fill="#083e88" />
<rect x="97.62" y="440.35" width="16.68" height="6.71" fill="#2b8cbe" />
<rect x="114.30" y="440.35" width="16.68" height="6.71" fill="#083e88" />
<rect x="130.98" y="440.35" width="16.68" height="6.71" fill="#083e88" />
<rect x="147.66" y="440.35" width="16.68" height="6.71" fill="#083e88" />
<rect x="164.34" y="440.35" width="16.68" height="6.71" fill="#083e88" />
<text x="184.10" y="445.45" font-size="5.43" >Fosfomycin resistance protein</text>
<rect x="17.10" y="447.06" width="5.00" height="6.71" fill="#fa5d35" />
<rect x="23.80" y="447.06" width="5.00" height="6.71" fill="#6a4c9c" />
<rect x="30.90" y="447.06" width="16.68" height="6.71" fill="#2b8cbe" />
<rect x="47.58" y="447.06" width="16.68" height="6.71" fill="#2b8cbe" />
<rect x="64.26" y="447.06" width="16.68" height="6.71" fill="#083e88" />
<rect x="80.94" y="447.06" width="16.68" height="6.71" fill="#083e88" />
<rect x="97.62" y="447.06" width="16.68" height="6.71" fill="#083e88" />
<rect x="114.30" y="447.06" width="16.68" height="6.71" fill="#083e88" />
<rect x="130.98" y="447.06" width="16.68" height="6.71" fill="#083e88" />
<rect x="147.66" y="447.06" width="16.68" height="6.71" fill="#083e88" />
<rect x="164.34" y="447.06" width="16.68" height="6.71" fill="#083e88" />
<text x="184.10" y="452.14" font-size="5.43" >Sensor histidine kinase PhoQ</text>
<rect x="17.10" y="453.76" width="5.00" height="6.71" fill="#444444" />
<rect x="23.80" y="453.76" width="5.00" height="6.71" fill="#f0197d" />
<rect x="30.90" y="453.76" width="16.68" height="6.71" fill="#083e88" />
<rect x="47.58" y="453.76" width="16.68" height="6.71" fill="#2b8cbe" />
<rect x="64.26" y="453.76" width="16.68" height="6.71" fill="#083e88" />
<rect x="80.94" y="453.76" width="16.68" height="6.71" fill="#083e88" />
<rect x="97.62" y="453.76" width="16.68" height="6.71" fill="#083e88" />
<rect x="114.30" y="453.76" width="16.68" height="6.71" fill="#083e88" />
<rect x="130.98" y="453.76" width="16.68" height="6.71" fill="#083e88" />
<rect x="147.66" y="453.76" width="16.68" height="6.71" fill="#083e88" />
<rect x="164.34" y="453.76" width="16.68" height="6.71" fill="#083e88" />
<text x="184.10" y="458.82" font-size="5.43" >PvrR, aminoglycoside resistance gene</text>
<rect x="17.10" y="460.47" width="5.00" height="6.71" fill="#1a9e8e" />
<rect x="23.80" y="460.47" width="5.00" height="6.71" fill="#6a4c9c" />
<rect x="30.90" y="460.47" width="16.68" height="6.71" fill="#2b8cbe" />
<rect x="47.58" y="460.47" width="16.68" height="6.71" fill="#2b8cbe" />
<rect x="64.26" y="460.47" width="16.68" height="6.71" fill="#083e88" />
<rect x="80.94" y="460.47" width="16.68" height="6.71" fill="#083e88" />
<rect x="97.62" y="460.47" width="16.68" height="6.71" fill="#083e88" />
<rect x="114.30" y="460.47" width="16.68" height="6.71" fill="#083e88" />
<rect x="130.98" y="460.47" width="16.68" height="6.71" fill="#083e88" />
<rect x="147.66" y="460.47" width="16.68" height="6.71" fill="#083e88" />
<rect x="164.34" y="460.47" width="16.68" height="6.71" fill="#083e88" />
<text x="184.10" y="465.51" font-size="5.43" >MexS, putative oxidoreductase</text>
<rect x="17.10" y="467.17" width="5.00" height="6.71" fill="#1a9e8e" />
<rect x="23.80" y="467.17" width="5.00" height="6.71" fill="#6a4c9c" />
<rect x="30.90" y="467.17" width="16.68" height="6.71" fill="#2b8cbe" />
<rect x="47.58" y="467.17" width="16.68" height="6.71" fill="#2b8cbe" />
<rect x="64.26" y="467.17" width="16.68" height="6.71" fill="#083e88" />
<rect x="80.94" y="467.17" width="16.68" height="6.71" fill="#083e88" />
<rect x="97.62" y="467.17" width="16.68" height="6.71" fill="#083e88" />
<rect x="114.30" y="467.17" width="16.68" height="6.71" fill="#083e88" />
<rect x="130.98" y="467.17" width="16.68" height="6.71" fill="#083e88" />
<rect x="147.66" y="467.17" width="16.68" height="6.71" fill="#083e88" />
<rect x="164.34" y="467.17" width="16.68" height="6.71" fill="#083e88" />
<text x="184.10" y="472.19" font-size="5.43" >Transcriptional regulator NfxB</text>
<rect x="17.10" y="473.88" width="5.00" height="6.71" fill="#8fc93a" />
<rect x="23.80" y="473.88" width="5.00" height="6.71" fill="#fa5d35" />
<rect x="30.90" y="473.88" width="16.68" height="6.71" fill="#2b8cbe" />
<rect x="47.58" y="473.88" width="16.68" height="6.71" fill="#2b8cbe" />
<rect x="64.26" y="473.88" width="16.68" height="6.71" fill="#083e88" />
<rect x="80.94" y="473.88" width="16.68" height="6.71" fill="#083e88" />
<rect x="97.62" y="473.88" width="16.68" height="6.71" fill="#083e88" />
<rect x="114.30" y="473.88" width="16.68" height="6.71" fill="#083e88" />
<rect x="130.98" y="473.88" width="16.68" height="6.71" fill="#083e88" />
<rect x="147.66" y="473.88" width="16.68" height="6.71" fill="#083e88" />
<rect x="164.34" y="473.88" width="16.68" height="6.71" fill="#083e88" />
<text x="184.10" y="478.88" font-size="5.43" >Response regulator QseB</text>
<rect x="17.10" y="480.58" width="5.00" height="6.71" fill="#8fc93a" />
<rect x="23.80" y="480.58" width="5.00" height="6.71" fill="#fa5d35" />
<rect x="30.90" y="480.58" width="16.68" height="6.71" fill="#2b8cbe" />
<rect x="47.58" y="480.58" width="16.68" height="6.71" fill="#2b8cbe" />
<rect x="64.26" y="480.58" width="16.68" height="6.71" fill="#083e88" />
<rect x="80.94" y="480.58" width="16.68" height="6.71" fill="#083e88" />
<rect x="97.62" y="480.58" width="16.68" height="6.71" fill="#083e88" />
<rect x="114.30" y="480.58" width="16.68" height="6.71" fill="#083e88" />
<rect x="130.98" y="480.58" width="16.68" height="6.71" fill="#083e88" />
<rect x="147.66" y="480.58" width="16.68" height="6.71" fill="#083e88" />
<rect x="164.34" y="480.58" width="16.68" height="6.71" fill="#083e88" />
<text x="184.10" y="485.56" font-size="5.43" >Sensory histidine kinase QseC</text>
<line x1="30.90" y1="306.25" x2="181.02" y2="306.25" stroke="#a29c92" stroke-width="0.45"/>
<line x1="30.90" y1="312.95" x2="181.02" y2="312.95" stroke="#a29c92" stroke-width="0.45"/>
<line x1="30.90" y1="319.66" x2="181.02" y2="319.66" stroke="#a29c92" stroke-width="0.45"/>
<line x1="30.90" y1="326.37" x2="181.02" y2="326.37" stroke="#a29c92" stroke-width="0.45"/>
<line x1="30.90" y1="333.07" x2="181.02" y2="333.07" stroke="#a29c92" stroke-width="0.45"/>
<line x1="30.90" y1="339.77" x2="181.02" y2="339.77" stroke="#a29c92" stroke-width="0.45"/>
<line x1="30.90" y1="346.48" x2="181.02" y2="346.48" stroke="#a29c92" stroke-width="0.45"/>
<line x1="30.90" y1="353.19" x2="181.02" y2="353.19" stroke="#a29c92" stroke-width="0.45"/>
<line x1="30.90" y1="359.89" x2="181.02" y2="359.89" stroke="#a29c92" stroke-width="0.45"/>
<line x1="30.90" y1="366.60" x2="181.02" y2="366.60" stroke="#a29c92" stroke-width="0.45"/>
<line x1="30.90" y1="373.30" x2="181.02" y2="373.30" stroke="#a29c92" stroke-width="0.45"/>
<line x1="30.90" y1="380.00" x2="181.02" y2="380.00" stroke="#a29c92" stroke-width="0.45"/>
<line x1="30.90" y1="386.71" x2="181.02" y2="386.71" stroke="#a29c92" stroke-width="0.45"/>
<line x1="30.90" y1="393.42" x2="181.02" y2="393.42" stroke="#a29c92" stroke-width="0.45"/>
<line x1="30.90" y1="400.12" x2="181.02" y2="400.12" stroke="#a29c92" stroke-width="0.45"/>
<line x1="30.90" y1="406.82" x2="181.02" y2="406.82" stroke="#a29c92" stroke-width="0.45"/>
<line x1="30.90" y1="413.53" x2="181.02" y2="413.53" stroke="#a29c92" stroke-width="0.45"/>
<line x1="30.90" y1="420.24" x2="181.02" y2="420.24" stroke="#a29c92" stroke-width="0.45"/>
<line x1="30.90" y1="426.94" x2="181.02" y2="426.94" stroke="#a29c92" stroke-width="0.45"/>
<line x1="30.90" y1="433.64" x2="181.02" y2="433.64" stroke="#a29c92" stroke-width="0.45"/>
<line x1="30.90" y1="440.35" x2="181.02" y2="440.35" stroke="#a29c92" stroke-width="0.45"/>
<line x1="30.90" y1="447.06" x2="181.02" y2="447.06" stroke="#a29c92" stroke-width="0.45"/>
<line x1="30.90" y1="453.76" x2="181.02" y2="453.76" stroke="#a29c92" stroke-width="0.45"/>
<line x1="30.90" y1="460.47" x2="181.02" y2="460.47" stroke="#a29c92" stroke-width="0.45"/>
<line x1="30.90" y1="467.17" x2="181.02" y2="467.17" stroke="#a29c92" stroke-width="0.45"/>
<line x1="30.90" y1="473.88" x2="181.02" y2="473.88" stroke="#a29c92" stroke-width="0.45"/>
<line x1="30.90" y1="480.58" x2="181.02" y2="480.58" stroke="#a29c92" stroke-width="0.45"/>
<line x1="30.90" y1="487.28" x2="181.02" y2="487.28" stroke="#a29c92" stroke-width="0.45"/>
<line x1="30.90" y1="306.25" x2="30.90" y2="487.28" stroke="#a29c92" stroke-width="0.45"/>
<line x1="47.58" y1="306.25" x2="47.58" y2="487.28" stroke="#a29c92" stroke-width="0.45"/>
<line x1="64.26" y1="306.25" x2="64.26" y2="487.28" stroke="#a29c92" stroke-width="0.45"/>
<line x1="80.94" y1="306.25" x2="80.94" y2="487.28" stroke="#a29c92" stroke-width="0.45"/>
<line x1="97.62" y1="306.25" x2="97.62" y2="487.28" stroke="#a29c92" stroke-width="0.45"/>
<line x1="114.30" y1="306.25" x2="114.30" y2="487.28" stroke="#a29c92" stroke-width="0.45"/>
<line x1="130.98" y1="306.25" x2="130.98" y2="487.28" stroke="#a29c92" stroke-width="0.45"/>
<line x1="147.66" y1="306.25" x2="147.66" y2="487.28" stroke="#a29c92" stroke-width="0.45"/>
<line x1="164.34" y1="306.25" x2="164.34" y2="487.28" stroke="#a29c92" stroke-width="0.45"/>
<line x1="181.02" y1="306.25" x2="181.02" y2="487.28" stroke="#a29c92" stroke-width="0.45"/>
<line x1="17.10" y1="306.25" x2="22.10" y2="306.25" stroke="#a29c92" stroke-width="0.3"/>
<line x1="23.80" y1="306.25" x2="28.80" y2="306.25" stroke="#a29c92" stroke-width="0.3"/>
<line x1="17.10" y1="312.95" x2="22.10" y2="312.95" stroke="#a29c92" stroke-width="0.3"/>
<line x1="23.80" y1="312.95" x2="28.80" y2="312.95" stroke="#a29c92" stroke-width="0.3"/>
<line x1="17.10" y1="319.66" x2="22.10" y2="319.66" stroke="#a29c92" stroke-width="0.3"/>
<line x1="23.80" y1="319.66" x2="28.80" y2="319.66" stroke="#a29c92" stroke-width="0.3"/>
<line x1="17.10" y1="326.37" x2="22.10" y2="326.37" stroke="#a29c92" stroke-width="0.3"/>
<line x1="23.80" y1="326.37" x2="28.80" y2="326.37" stroke="#a29c92" stroke-width="0.3"/>
<line x1="17.10" y1="333.07" x2="22.10" y2="333.07" stroke="#a29c92" stroke-width="0.3"/>
<line x1="23.80" y1="333.07" x2="28.80" y2="333.07" stroke="#a29c92" stroke-width="0.3"/>
<line x1="17.10" y1="339.77" x2="22.10" y2="339.77" stroke="#a29c92" stroke-width="0.3"/>
<line x1="23.80" y1="339.77" x2="28.80" y2="339.77" stroke="#a29c92" stroke-width="0.3"/>
<line x1="17.10" y1="346.48" x2="22.10" y2="346.48" stroke="#a29c92" stroke-width="0.3"/>
<line x1="23.80" y1="346.48" x2="28.80" y2="346.48" stroke="#a29c92" stroke-width="0.3"/>
<line x1="17.10" y1="353.19" x2="22.10" y2="353.19" stroke="#a29c92" stroke-width="0.3"/>
<line x1="23.80" y1="353.19" x2="28.80" y2="353.19" stroke="#a29c92" stroke-width="0.3"/>
<line x1="17.10" y1="359.89" x2="22.10" y2="359.89" stroke="#a29c92" stroke-width="0.3"/>
<line x1="23.80" y1="359.89" x2="28.80" y2="359.89" stroke="#a29c92" stroke-width="0.3"/>
<line x1="17.10" y1="366.60" x2="22.10" y2="366.60" stroke="#a29c92" stroke-width="0.3"/>
<line x1="23.80" y1="366.60" x2="28.80" y2="366.60" stroke="#a29c92" stroke-width="0.3"/>
<line x1="17.10" y1="373.30" x2="22.10" y2="373.30" stroke="#a29c92" stroke-width="0.3"/>
<line x1="23.80" y1="373.30" x2="28.80" y2="373.30" stroke="#a29c92" stroke-width="0.3"/>
<line x1="17.10" y1="380.00" x2="22.10" y2="380.00" stroke="#a29c92" stroke-width="0.3"/>
<line x1="23.80" y1="380.00" x2="28.80" y2="380.00" stroke="#a29c92" stroke-width="0.3"/>
<line x1="17.10" y1="386.71" x2="22.10" y2="386.71" stroke="#a29c92" stroke-width="0.3"/>
<line x1="23.80" y1="386.71" x2="28.80" y2="386.71" stroke="#a29c92" stroke-width="0.3"/>
<line x1="17.10" y1="393.42" x2="22.10" y2="393.42" stroke="#a29c92" stroke-width="0.3"/>
<line x1="23.80" y1="393.42" x2="28.80" y2="393.42" stroke="#a29c92" stroke-width="0.3"/>
<line x1="17.10" y1="400.12" x2="22.10" y2="400.12" stroke="#a29c92" stroke-width="0.3"/>
<line x1="23.80" y1="400.12" x2="28.80" y2="400.12" stroke="#a29c92" stroke-width="0.3"/>
<line x1="17.10" y1="406.82" x2="22.10" y2="406.82" stroke="#a29c92" stroke-width="0.3"/>
<line x1="23.80" y1="406.82" x2="28.80" y2="406.82" stroke="#a29c92" stroke-width="0.3"/>
<line x1="17.10" y1="413.53" x2="22.10" y2="413.53" stroke="#a29c92" stroke-width="0.3"/>
<line x1="23.80" y1="413.53" x2="28.80" y2="413.53" stroke="#a29c92" stroke-width="0.3"/>
<line x1="17.10" y1="420.24" x2="22.10" y2="420.24" stroke="#a29c92" stroke-width="0.3"/>
<line x1="23.80" y1="420.24" x2="28.80" y2="420.24" stroke="#a29c92" stroke-width="0.3"/>
<line x1="17.10" y1="426.94" x2="22.10" y2="426.94" stroke="#a29c92" stroke-width="0.3"/>
<line x1="23.80" y1="426.94" x2="28.80" y2="426.94" stroke="#a29c92" stroke-width="0.3"/>
<line x1="17.10" y1="433.64" x2="22.10" y2="433.64" stroke="#a29c92" stroke-width="0.3"/>
<line x1="23.80" y1="433.64" x2="28.80" y2="433.64" stroke="#a29c92" stroke-width="0.3"/>
<line x1="17.10" y1="440.35" x2="22.10" y2="440.35" stroke="#a29c92" stroke-width="0.3"/>
<line x1="23.80" y1="440.35" x2="28.80" y2="440.35" stroke="#a29c92" stroke-width="0.3"/>
<line x1="17.10" y1="447.06" x2="22.10" y2="447.06" stroke="#a29c92" stroke-width="0.3"/>
<line x1="23.80" y1="447.06" x2="28.80" y2="447.06" stroke="#a29c92" stroke-width="0.3"/>
<line x1="17.10" y1="453.76" x2="22.10" y2="453.76" stroke="#a29c92" stroke-width="0.3"/>
<line x1="23.80" y1="453.76" x2="28.80" y2="453.76" stroke="#a29c92" stroke-width="0.3"/>
<line x1="17.10" y1="460.47" x2="22.10" y2="460.47" stroke="#a29c92" stroke-width="0.3"/>
<line x1="23.80" y1="460.47" x2="28.80" y2="460.47" stroke="#a29c92" stroke-width="0.3"/>
<line x1="17.10" y1="467.17" x2="22.10" y2="467.17" stroke="#a29c92" stroke-width="0.3"/>
<line x1="23.80" y1="467.17" x2="28.80" y2="467.17" stroke="#a29c92" stroke-width="0.3"/>
<line x1="17.10" y1="473.88" x2="22.10" y2="473.88" stroke="#a29c92" stroke-width="0.3"/>
<line x1="23.80" y1="473.88" x2="28.80" y2="473.88" stroke="#a29c92" stroke-width="0.3"/>
<line x1="17.10" y1="480.58" x2="22.10" y2="480.58" stroke="#a29c92" stroke-width="0.3"/>
<line x1="23.80" y1="480.58" x2="28.80" y2="480.58" stroke="#a29c92" stroke-width="0.3"/>
<line x1="17.10" y1="487.28" x2="22.10" y2="487.28" stroke="#a29c92" stroke-width="0.3"/>
<line x1="23.80" y1="487.28" x2="28.80" y2="487.28" stroke="#a29c92" stroke-width="0.3"/>
<text transform="translate(37.34 489.20) rotate(90)" font-size="5.55" >aeruginosa_pao1</text>
<text transform="translate(54.02 489.20) rotate(90)" font-size="5.55" >aeruginosa_ucbpppa14</text>
<text transform="translate(70.70 489.20) rotate(90)" font-size="5.55" >putida_jnt1</text>
<text transform="translate(87.38 489.20) rotate(90)" font-size="5.55" >putida_kt2440</text>
<text transform="translate(104.06 489.20) rotate(90)" font-size="5.55" >sp_bnt11</text>
<text transform="translate(120.74 489.20) rotate(90)" font-size="5.55" >sp_bnt3</text>
<text transform="translate(137.42 489.20) rotate(90)" font-size="5.55" >sp_bnt19</text>
<text transform="translate(154.10 489.20) rotate(90)" font-size="5.55" >syringae_b301d</text>
<text transform="translate(170.78 489.20) rotate(90)" font-size="5.55" >syringae_hs191</text>
<text transform="translate(17.80 489.20) rotate(90)" font-size="5.55" font-weight="bold">classification</text>
<text transform="translate(24.90 489.20) rotate(90)" font-size="5.55" font-weight="bold">antibiotic</text>
<path d="M39.24 306.25V302.80H55.92V306.25" fill="none" stroke="#303030" stroke-width="0.55"/>
<path d="M89.28 306.25V301.60H105.96V306.25" fill="none" stroke="#303030" stroke-width="0.55"/>
<path d="M72.60 306.25V298.20H97.62V301.60" fill="none" stroke="#303030" stroke-width="0.55"/>
<path d="M139.32 306.25V301.60H164.34V306.25" fill="none" stroke="#303030" stroke-width="0.55"/>
<path d="M122.64 306.25V297.30H151.83V301.60" fill="none" stroke="#303030" stroke-width="0.55"/>
<path d="M85.11 298.20V293.10H137.23V297.30" fill="none" stroke="#303030" stroke-width="0.55"/>
<path d="M47.58 302.80V271.30H111.17V293.10" fill="none" stroke="#303030" stroke-width="0.55"/>
<text x="3.80" y="276.70" font-size="9.4" class="ser">(b)</text>
<rect x="299.2" y="306.4" width="6.6" height="100.4" fill="url(#gb)"/>
<text x="308.20" y="308.20" font-size="5.43" >4</text>
<text x="308.20" y="333.30" font-size="5.43" >3</text>
<text x="308.20" y="358.40" font-size="5.43" >2</text>
<text x="308.20" y="383.50" font-size="5.43" >1</text>
<text x="308.20" y="408.60" font-size="5.43" >0</text>
<text x="314.30" y="309.90" font-size="5.43" font-weight="bold">classification</text>
<rect x="314.30" y="312.00" width="7.20" height="7.68" fill="#2196c4" />
<text x="323.70" y="317.64" font-size="5.43" >efflux pump conferring antibiotic resistance</text>
<rect x="314.30" y="319.68" width="7.20" height="7.68" fill="#f0197d" />
<text x="323.70" y="325.32" font-size="5.43" >antibiotic inactivation enzyme</text>
<rect x="314.30" y="327.36" width="7.20" height="7.68" fill="#5a4a9c" />
<text x="323.70" y="333.00" font-size="5.43" >beta-lactam resistance gene</text>
<rect x="314.30" y="335.04" width="7.20" height="7.68" fill="#8fd41e" />
<text x="323.70" y="340.68" font-size="5.43" >antibiotic resistant gene variant or mutant</text>
<rect x="314.30" y="342.72" width="7.20" height="7.68" fill="#0f5e7c" />
<text x="323.70" y="348.36" font-size="5.43" >chloramphenicol resistance gene</text>
<rect x="314.30" y="350.40" width="7.20" height="7.68" fill="#b5086a" />
<text x="323.70" y="356.04" font-size="5.43" >fluoroquinolone resistance gene</text>
<rect x="314.30" y="358.08" width="7.20" height="7.68" fill="#6aa5dc" />
<text x="323.70" y="363.72" font-size="5.43" >fosfomycin resistance gene</text>
<rect x="314.30" y="365.76" width="7.20" height="7.68" fill="#1a9e8e" />
<text x="323.70" y="371.40" font-size="5.43" >gene modulating antibiotic efflux</text>
<rect x="314.30" y="373.44" width="7.20" height="7.68" fill="#f5b70f" />
<text x="323.70" y="379.08" font-size="5.43" >carbapenem uptake</text>
<rect x="314.30" y="381.12" width="7.20" height="7.68" fill="#444444" />
<text x="323.70" y="386.76" font-size="5.43" >gene conferring resistance via absence</text>
<rect x="314.30" y="388.80" width="7.20" height="7.68" fill="#8fc93a" />
<text x="323.70" y="394.44" font-size="5.43" >polymyxin resistance gene</text>
<rect x="314.30" y="396.48" width="7.20" height="7.68" fill="#fa5d35" />
<text x="323.70" y="402.12" font-size="5.43" >gene altering cell wall charge conferring antibiotic resistance</text>
<text x="314.30" y="413.80" font-size="5.43" font-weight="bold">antibiotic</text>
<rect x="314.30" y="416.30" width="7.20" height="7.72" fill="#f8575f" />
<text x="323.70" y="421.96" font-size="5.43" >EFFLUX</text>
<rect x="314.30" y="424.02" width="7.20" height="7.72" fill="#fbc93d" />
<text x="323.70" y="429.68" font-size="5.43" >PHENICOL</text>
<rect x="314.30" y="431.74" width="7.20" height="7.72" fill="#8fc93a" />
<text x="323.70" y="437.40" font-size="5.43" >FOSFOMYCIN</text>
<rect x="314.30" y="439.46" width="7.20" height="7.72" fill="#1f7fc6" />
<text x="323.70" y="445.12" font-size="5.43" >BETALACTAM</text>
<rect x="314.30" y="447.18" width="7.20" height="7.72" fill="#f0197d" />
<text x="323.70" y="452.84" font-size="5.43" >AMINOGLYCOSIDE</text>
<rect x="314.30" y="454.90" width="7.20" height="7.72" fill="#6a4c9c" />
<text x="323.70" y="460.56" font-size="5.43" >MULTIDRUG</text>
<rect x="314.30" y="462.62" width="7.20" height="7.72" fill="#fa5d35" />
<text x="323.70" y="468.28" font-size="5.43" >POLYMYXIN</text>
<rect x="314.30" y="470.34" width="7.20" height="7.72" fill="#b5086a" />
<text x="323.70" y="476.00" font-size="5.43" >FLUOROQUINOLONE</text>
<rect x="314.30" y="478.06" width="7.20" height="7.72" fill="#fce63d" />
<text x="323.70" y="483.72" font-size="5.43" >CARBAPENEM</text>
</svg>
</body></html>
